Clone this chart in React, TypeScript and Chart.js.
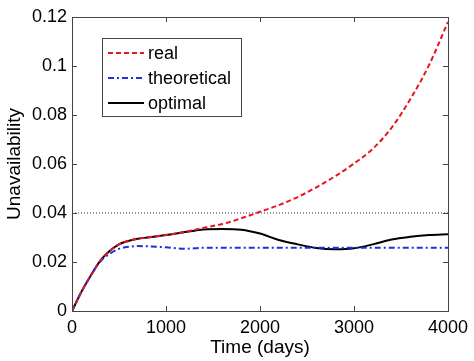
import React, { useEffect, useRef } from "react";
import { Chart, registerables } from "chart.js";

Chart.register(...registerables);

const days = [0, 100, 200, 300, 400, 500, 600, 700, 800, 1000, 1200, 1400, 1600, 1800, 2000, 2200, 2400, 2600, 2800, 3000, 3200, 3400, 3600, 3800, 4000];
const realValues = [0, 0.0078, 0.0145, 0.0205, 0.0245, 0.0272, 0.0286, 0.0295, 0.03, 0.031, 0.0322, 0.034, 0.0355, 0.0378, 0.0405, 0.0432, 0.0465, 0.0505, 0.055, 0.0602, 0.0662, 0.0748, 0.0865, 0.1005, 0.118];
const theoreticalValues = [0, 0.0078, 0.0145, 0.0202, 0.0233, 0.0254, 0.0262, 0.0265, 0.0264, 0.026, 0.0254, 0.0258, 0.0258, 0.0258, 0.0258, 0.0258, 0.0258, 0.0258, 0.0258, 0.0258, 0.0258, 0.0258, 0.0258, 0.0258, 0.0258];
const optimalValues = [0, 0.0078, 0.0145, 0.0205, 0.0245, 0.0272, 0.0286, 0.0295, 0.03, 0.031, 0.0322, 0.0333, 0.0335, 0.0332, 0.0316, 0.029, 0.0272, 0.0257, 0.0252, 0.0256, 0.0272, 0.0292, 0.0303, 0.031, 0.0313];
const thresholdDays = [0, 4000];
const thresholdValues = [0.04, 0.04];
const seriesNames = ["real", "theoretical", "optimal"];
const xTicks = [0, 1000, 2000, 3000, 4000];
const yTicks = [0, 0.02, 0.04, 0.06, 0.08, 0.1, 0.12];
const xTitle = "Time (days)";
const yTitle = "Unavailability";

const FONT = '"Liberation Sans", Arial, Helvetica, sans-serif';
const styles = [
  { color: "#e8141e", dash: [5, 3], width: 2 },
  { color: "#1f2fdc", dash: [6, 3, 2, 3], width: 2 },
  { color: "#000000", dash: [], width: 2 },
];

const toPts = (xs: number[], ys: number[]) => xs.map((x, i) => ({ x, y: ys[i] }));

const framePlugin = {
  id: "matlabFrame",
  afterDraw(chart: any) {
    const { ctx, chartArea: a, scales } = chart;
    const xs = scales.x;
    const ys = scales.y;
    ctx.save();
    ctx.strokeStyle = "#444";
    ctx.lineWidth = 1;
    ctx.setLineDash([]);
    ctx.strokeRect(Math.round(a.left) + 0.5, Math.round(a.top) + 0.5, Math.round(a.right - a.left), Math.round(a.bottom - a.top));
    const tl = 5;
    ctx.beginPath();
    xTicks.forEach((t) => {
      const px = Math.round(xs.getPixelForValue(t)) + 0.5;
      ctx.moveTo(px, a.bottom);
      ctx.lineTo(px, a.bottom - tl);
      ctx.moveTo(px, a.top);
      ctx.lineTo(px, a.top + tl);
    });
    yTicks.forEach((t) => {
      const py = Math.round(ys.getPixelForValue(t)) + 0.5;
      ctx.moveTo(a.left, py);
      ctx.lineTo(a.left + tl, py);
      ctx.moveTo(a.right, py);
      ctx.lineTo(a.right - tl, py);
    });
    ctx.stroke();

    ctx.fillStyle = "#000";
    ctx.font = `19px ${FONT}`;
    ctx.textAlign = "center";
    ctx.textBaseline = "alphabetic";
    ctx.fillText(xTitle, (a.left + a.right) / 2, 353);
    ctx.save();
    ctx.translate(20, (a.top + a.bottom) / 2);
    ctx.rotate(-Math.PI / 2);
    ctx.fillText(yTitle, 0, 0);
    ctx.restore();

    const lx = 102.5, ly = 38.5, lw = 139, lh = 78;
    ctx.fillStyle = "#fff";
    ctx.fillRect(lx, ly, lw, lh);
    ctx.strokeStyle = "#444";
    ctx.lineWidth = 1;
    ctx.strokeRect(lx, ly, lw, lh);
    const rows = [53, 78, 103];
    seriesNames.forEach((name, i) => {
      const s = styles[i];
      ctx.beginPath();
      ctx.strokeStyle = s.color;
      ctx.lineWidth = s.width;
      ctx.setLineDash(s.dash);
      ctx.moveTo(108, rows[i]);
      ctx.lineTo(144, rows[i]);
      ctx.stroke();
      ctx.setLineDash([]);
      ctx.fillStyle = "#000";
      ctx.font = `18px ${FONT}`;
      ctx.textAlign = "left";
      ctx.textBaseline = "middle";
      ctx.fillText(name, 148, rows[i] + 1);
    });
    ctx.restore();
  },
};

export default function App() {
  const ref = useRef<HTMLCanvasElement | null>(null);
  useEffect(() => {
    if (!ref.current) return;
    const valueSets = [realValues, theoreticalValues, optimalValues];
    const datasets: any[] = seriesNames.map((name, i) => ({
      label: name,
      data: toPts(days, valueSets[i]),
      borderColor: styles[i].color,
      borderDash: styles[i].dash,
      borderWidth: styles[i].width,
      pointRadius: 0,
      fill: false,
      cubicInterpolationMode: "monotone",
    }));
    datasets.push({
      label: "threshold",
      data: toPts(thresholdDays, thresholdValues),
      borderColor: "#333",
      borderDash: [1, 2],
      borderWidth: 1,
      pointRadius: 0,
      fill: false,
    });
    const chart = new Chart(ref.current, {
      type: "line",
      data: { datasets },
      plugins: [framePlugin],
      options: {
        animation: false,
        responsive: false,
        maintainAspectRatio: false,
        layout: { padding: { left: 0, top: 17, right: 25, bottom: 0 } },
        plugins: { legend: { display: false }, tooltip: { enabled: false } },
        scales: {
          x: {
            type: "linear",
            min: 0,
            max: 4000,
            afterFit: (s: any) => { s.height = 50; },
            afterBuildTicks: (s: any) => { s.ticks = xTicks.map((v) => ({ value: v })); },
            grid: { display: false, drawTicks: false },
            border: { display: false },
            ticks: {
              padding: 6,
              color: "#000",
              font: { family: FONT, size: 18 },
              maxRotation: 0,
              callback: (v: any) => String(v),
            },
          },
          y: {
            type: "linear",
            min: 0,
            max: 0.12,
            afterFit: (s: any) => { s.width = 72; },
            afterBuildTicks: (s: any) => { s.ticks = yTicks.map((v) => ({ value: v })); },
            grid: { display: false, drawTicks: false },
            border: { display: false },
            ticks: {
              padding: 5,
              color: "#000",
              font: { family: FONT, size: 18 },
              callback: (v: any) => String(+Number(v).toFixed(2)),
            },
          },
        },
      },
    });
    return () => chart.destroy();
  }, []);
  return (
    <div style={{ position: "fixed", left: 0, top: 0, width: 474, height: 361, background: "#fff" }}>
      <canvas ref={ref} width={474} height={361} style={{ display: "block", width: 474, height: 361 }} />
    </div>
  );
}
